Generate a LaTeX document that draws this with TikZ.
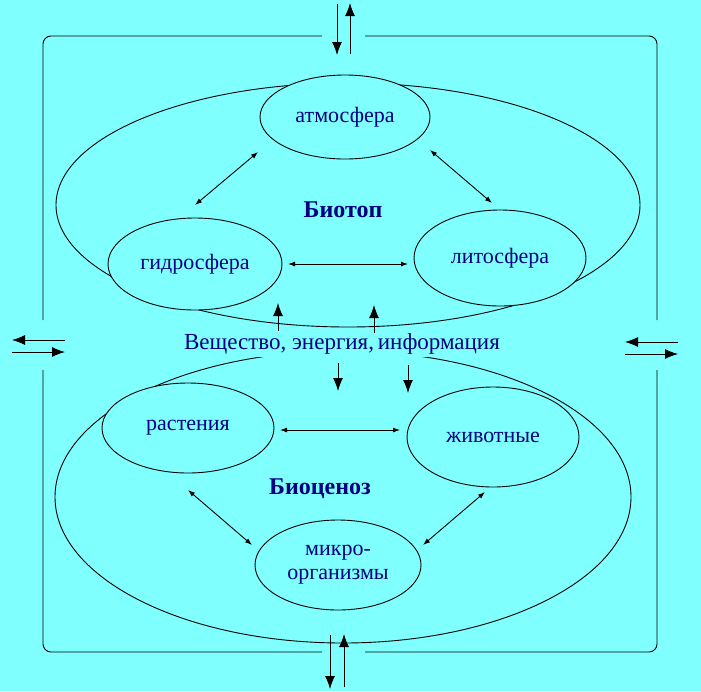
\documentclass[tikz,border=0pt]{standalone}
\usepackage{fontspec}
\setmainfont{Liberation Serif}
\usetikzlibrary{arrows.meta,shapes.geometric}
\definecolor{bg}{RGB}{128,255,255}
\definecolor{tx}{RGB}{0,0,128}
\begin{document}
\begin{tikzpicture}[x=1pt,y=-1pt,line width=0.9pt,
  el/.style={draw,fill=bg,ellipse,inner sep=0pt,text=tx,font=\fontsize{22}{24}\selectfont},
  dbl/.style={{Latex[length=7pt,width=5pt]}-{Latex[length=7pt,width=5pt]}},
  big/.style={-{Latex[length=13pt,width=10pt]}},
  ttl/.style={text=tx,font=\fontsize{24}{26}\selectfont\bfseries}]
\fill[bg] (0,0) rectangle (701,691);
\useasboundingbox (0,0) rectangle (701,691);
% frame
\draw[rounded corners=8pt] (322,36) -- (43,36) -- (43,320);
\draw[rounded corners=8pt] (365,36) -- (657,36) -- (657,320);
\draw[rounded corners=8pt] (43,370) -- (43,652) -- (322,652);
\draw[rounded corners=8pt] (657,370) -- (657,652) -- (365,652);
% big ellipses
\draw (348,205) ellipse [x radius=292, y radius=122];
\draw (343,497) ellipse [x radius=288, y radius=146];
\node[fill=bg,text=tx,font=\fontsize{23}{25}\selectfont,inner sep=3pt] (mid) at (342,344) {Вещество, энергия,\,информация};
% small ellipses
\node[el,minimum width=170,minimum height=84] (atm) at (345,117) {атмосфера};
\node[el,minimum width=174,minimum height=92] (hyd) at (195,264) {гидросфера};
\node[el,minimum width=172,minimum height=96] (lit) at (500,258) {литосфера};
\node[el,minimum width=172,minimum height=90] (pla) at (188,428) {\raisebox{4pt}{растения}};
\node[el,minimum width=172,minimum height=100] (ani) at (493,437) {животные};
\node[el,minimum width=166,minimum height=90,align=center] (mic) at (338,565) {микро-\\организмы};
\node[ttl] (biot) at (343,210) {Биотоп};
\node[ttl] (bioc) at (320,489) {Биоценоз};
% double arrows
\coordinate (a1) at (258,152); \coordinate (a2) at (195,205);
\coordinate (b1) at (430,150); \coordinate (b2) at (492,203);
\coordinate (c1) at (288,264); \coordinate (c2) at (408,264);
\coordinate (d1) at (280,430); \coordinate (d2) at (400,430);
\coordinate (e1) at (188,490); \coordinate (e2) at (252,545);
\coordinate (f1) at (485,492); \coordinate (f2) at (423,545);
\draw[dbl] (a1) -- (a2); \draw[dbl] (b1) -- (b2); \draw[dbl] (c1) -- (c2);
\draw[dbl] (d1) -- (d2); \draw[dbl] (e1) -- (e2); \draw[dbl] (f1) -- (f2);
% big arrows around text
\coordinate (u1a) at (278,331); \coordinate (u1b) at (278,303);
\coordinate (u2a) at (374,333); \coordinate (u2b) at (374,305);
\coordinate (d1a) at (338,363); \coordinate (d1b) at (338,391);
\coordinate (d2a) at (408,365); \coordinate (d2b) at (408,393);
\draw[big] (u1a) -- (u1b); \draw[big] (u2a) -- (u2b);
\draw[big] (d1a) -- (d1b); \draw[big] (d2a) -- (d2b);
% exchange arrows
\coordinate (t1a) at (337,4); \coordinate (t1b) at (337,55);
\coordinate (t2a) at (350,54); \coordinate (t2b) at (350,3);
\coordinate (m1a) at (330,635); \coordinate (m1b) at (330,689);
\coordinate (m2a) at (344,687); \coordinate (m2b) at (344,634);
\coordinate (l1a) at (65,340); \coordinate (l1b) at (12,340);
\coordinate (l2a) at (12,352); \coordinate (l2b) at (65,352);
\coordinate (r1a) at (678,342); \coordinate (r1b) at (625,342);
\coordinate (r2a) at (625,354); \coordinate (r2b) at (678,354);
\foreach \p in {t1,t2,m1,m2,l1,l2,r1,r2}
  \draw[big] (\p a) -- (\p b);
\end{tikzpicture}
\end{document}
